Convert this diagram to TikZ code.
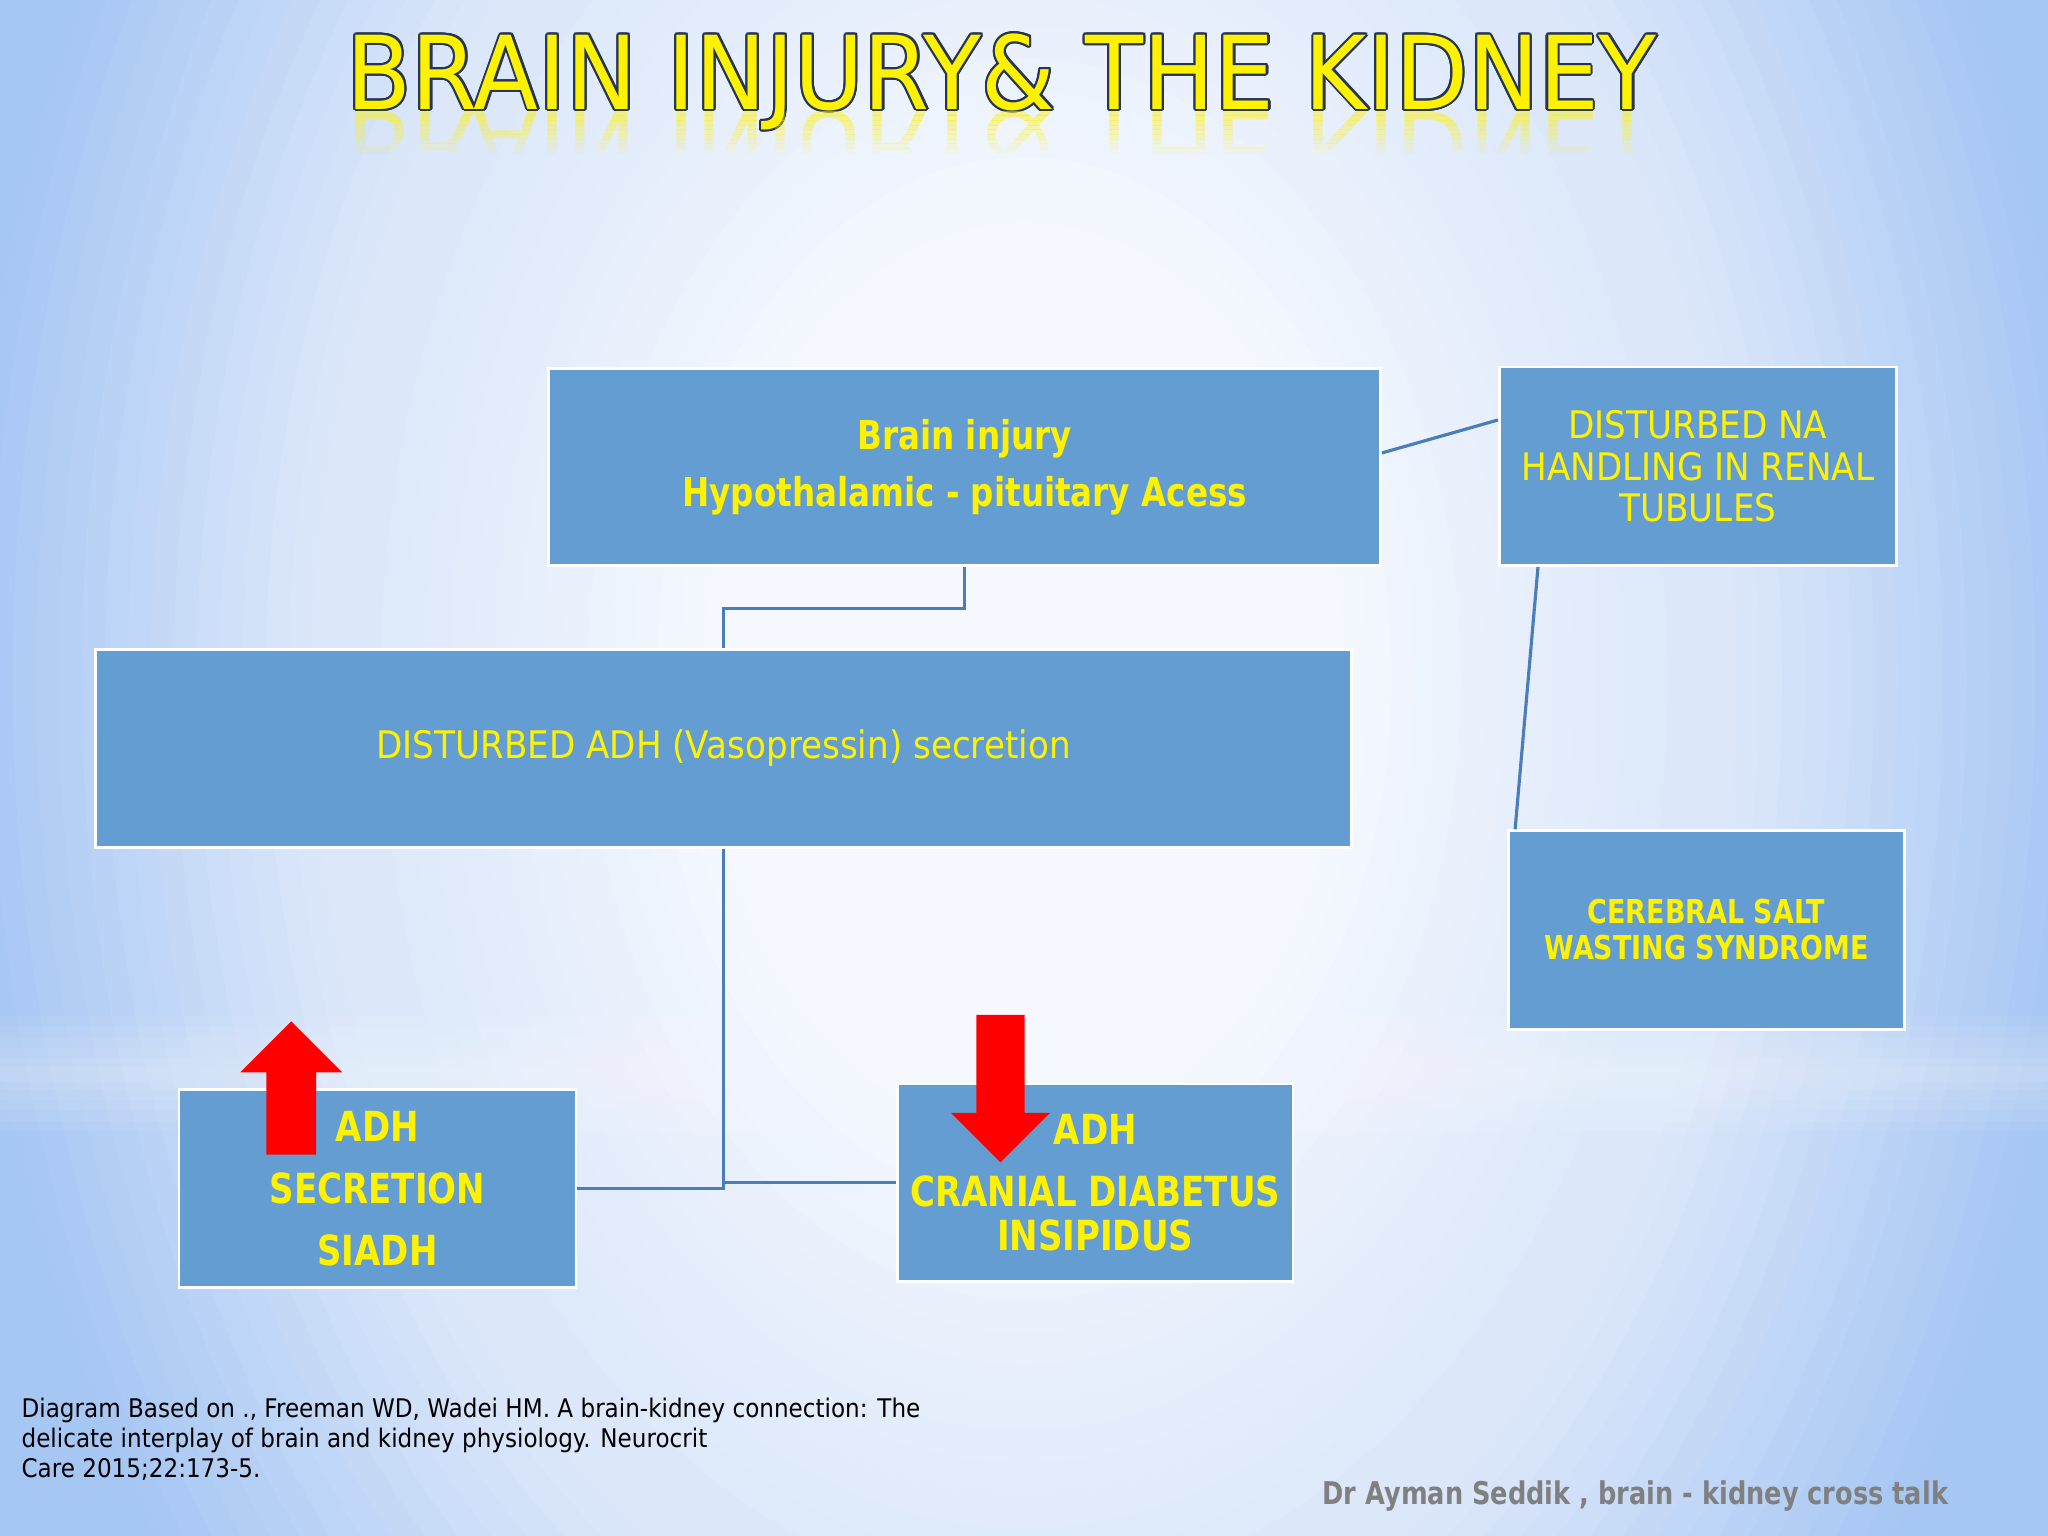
\documentclass[tikz,border=0pt]{standalone}
\usepackage{fontspec}
\usepackage[copies]{contour}
\usetikzlibrary{calc}
\newfontfamily\boxfont[FakeStretch=0.9,BoldFeatures={FakeStretch=0.82}]{DejaVu Sans}
\newfontfamily\titlefont[FakeStretch=0.93]{DejaVu Sans}
\definecolor{bgblue}{RGB}{166,198,243}
\definecolor{glowmid}{RGB}{220,232,250}
\definecolor{glowwhite}{RGB}{245,248,254}
\definecolor{boxblue}{RGB}{99,157,210}
\definecolor{linkblue}{RGB}{74,126,187}
\definecolor{titleline}{RGB}{38,52,86}
\definecolor{creditgray}{RGB}{128,128,128}
\contourlength{0.6pt}
\newcommand{\titletext}{\textcolor{yellow}{\contour{titleline}{BRAIN INJURY\& THE KIDNEY}}}
\newcommand{\refltext}{\textcolor{yellow}{BRAIN INJURY\& THE KIDNEY}}
\begin{document}
\begin{tikzpicture}[x=0.130612mm,y=-0.130612mm,
  box/.style={draw=white, line width=0.8pt, fill=boxblue, text=yellow, align=center, inner sep=0pt},
  link/.style={draw=linkblue, line width=0.9pt},
  titlestyle/.style={font=\titlefont\fontsize{29}{30}\selectfont, anchor=base, inner sep=0pt}]
\useasboundingbox (0,0) rectangle (1568,1176);
% background
\begin{scope}
  \clip (0,0) rectangle (1568,1176);
  \fill[bgblue] (0,0) rectangle (1568,1176);
  \foreach \k in {0,...,59} {
    \pgfmathsetmacro\f{1.2-\k/50}
    \pgfmathsetmacro\pa{min(100,max(0,(0.93-\f)/0.30*100))}
    \pgfmathsetmacro\pb{min(100,max(0,(0.58-\f)/0.30*100))}
    \fill[glowwhite!\pb!glowmid!\pa!bgblue] (784,520) ellipse [x radius={880*\f}, y radius={1250*\f}];
  }
  \foreach \h in {44,36,28,20,12,6} {
    \fill[white, opacity=0.06] (0,{822-\h}) rectangle (1568,{822+\h});
  }
\end{scope}
% title and its reflection
\node[titlestyle] (title) at (767,83.7) {\titletext};
\foreach \i in {0,...,8} {
  \pgfmathsetmacro\op{0.5-0.055*\i}
  \begin{scope}
    \clip (0,{85+3.6*\i}) rectangle (1568,{88.6+3.6*\i});
    \node[titlestyle, yscale=-1, opacity=\op] (titlerefl\i) at (767,85.5) {\refltext};
  \end{scope}
}
% boxes
\node[box, minimum width=83.20mm, minimum height=19.72mm, font=\boxfont\bfseries\fontsize{11.3}{16.1}\selectfont] (A) at (738.5,357.5) {Brain injury\\Hypothalamic - pituitary Acess};
\node[box, minimum width=39.71mm, minimum height=19.85mm, font=\boxfont\fontsize{10.8}{11.8}\selectfont] (B) at (1300,357) {DISTURBED NA\\HANDLING IN RENAL\\TUBULES};
\node[box, minimum width=125.65mm, minimum height=19.85mm, font=\boxfont\fontsize{10.8}{11.8}\selectfont] (C) at (554,573) {DISTURBED ADH (Vasopressin) secretion};
\node[box, minimum width=39.58mm, minimum height=19.85mm, font=\boxfont\bfseries\fontsize{9.35}{10.2}\selectfont] (D) at (1306.5,712) {CEREBRAL SALT\\WASTING SYNDROME};
\node[box, minimum width=39.71mm, minimum height=19.85mm, font=\boxfont\bfseries\fontsize{11.8}{17.65}\selectfont] (E) at (289,910) {ADH\\SECRETION\\SIADH};
\node[box, minimum width=39.58mm, minimum height=19.72mm, font=\boxfont\bfseries\fontsize{11.8}{12.6}\selectfont] (F) at (838.5,905.5) {ADH\\[5.05pt]CRANIAL DIABETUS\\INSIPIDUS};
% connectors
\coordinate (j1) at (554,466);
\draw[link] (A.south) |- (j1) -- (C.north);
\draw[link] ($(A.north east)!0.43!(A.south east)$) -- ($(B.north west)!0.27!(B.south west)$);
\draw[link] ($(B.south west)!0.1!(B.south east)$) -- ($(D.north west)!0.02!(D.north east)$);
\draw[link] (C.south) |- (E.east);
\draw[link] (C.south) |- (F.west);
% red arrows
\fill[red] (204,884) -- (204,821) -- (184,821) -- (223,782) -- (262,821) -- (242,821) -- (242,884) -- cycle;
\fill[red] (747.5,777) -- (784.5,777) -- (784.5,852) -- (804,852) -- (766,890) -- (728,852) -- (747.5,852) -- cycle;
% footer
\node[anchor=north west, inner sep=0pt, align=left, font=\boxfont\fontsize{7.3}{8.6}\selectfont, text=black] (cite) at (16,1069.8) {Diagram Based on ., Freeman WD, Wadei HM. A brain-kidney connection: The\\delicate interplay of brain and kidney physiology. Neurocrit\\Care 2015;22:173-5.};
\node[anchor=base east, inner sep=0pt, font=\boxfont\bfseries\fontsize{8.9}{10}\selectfont, text=creditgray] (credit) at (1492,1152) {Dr Ayman Seddik , brain - kidney cross talk};
\end{tikzpicture}
\end{document}
